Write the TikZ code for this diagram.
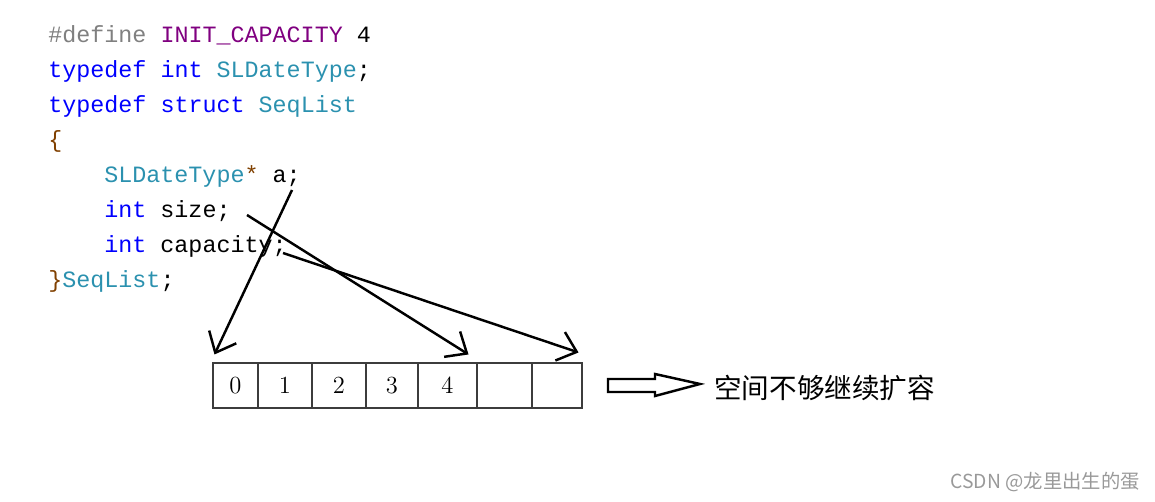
\documentclass[tikz,border=0pt]{standalone}
\usepackage{fontspec}
\setmonofont{Liberation Mono}
\newfontfamily\cjk{Noto Sans CJK SC}
\usetikzlibrary{arrows.meta, positioning}
\definecolor{kwblue}{RGB}{0, 0, 255}
\definecolor{typeteal}{RGB}{43, 145, 175}
\definecolor{macropurple}{RGB}{128, 0, 128}
\definecolor{pregray}{RGB}{128, 128, 128}
\definecolor{bracebrown}{RGB}{128, 64, 0}
\definecolor{cellgray}{RGB}{60, 60, 60}

\begin{document}
\begin{tikzpicture}[x=0.02cm, y=-0.02cm,
        code/.style={anchor=base west, inner sep=0pt, font=\ttfamily\fontsize{13.3}{15}\selectfont},
        cell/.style={draw=cellgray, line width=0.6pt, minimum height=0.9cm, inner sep=0pt, font=\fontsize{14}{16}\selectfont},
        ptr/.style={-{Straight Barb[length=3.5mm, width=6mm]}, line width=1.4pt}
      ]
        \useasboundingbox (0,0) rectangle (1155,502);
        % struct definition
        \node[code] (def) at (48,43) {\textcolor{pregray}{\#define} \textcolor{macropurple}{INIT\_CAPACITY} 4};
        \node[code] (td1) at (48,78) {\textcolor{kwblue}{typedef} \textcolor{kwblue}{int} \textcolor{typeteal}{SLDateType};};
        \node[code] (td2) at (48,113) {\textcolor{kwblue}{typedef} \textcolor{kwblue}{struct} \textcolor{typeteal}{SeqList}};
        \node[code] (lb) at (48,148) {\textcolor{bracebrown}{\{}};
        \node[code] (fa) at (104,183) {\textcolor{typeteal}{SLDateType}\textcolor{bracebrown}{*} a;};
        \node[code] (fsize) at (104,218) {\textcolor{kwblue}{int} size;};
        \node[code] (fcap) at (104,253) {\textcolor{kwblue}{int} capacity;};
        \node[code] (rb) at (48,288) {\textcolor{bracebrown}{\}}\textcolor{typeteal}{SeqList};};
        % array cells
        \foreach \i/\xl/\xr/\t in {0/213/258/0, 1/258/312/1, 2/312/366/2, 3/366/418/3, 4/418/477/4, 5/477/532/{}, 6/532/582/{}}
          \node[cell, minimum width={(\xr-\xl)*0.02cm}] (c\i) at ({(\xl+\xr)/2},385.5) {\t};
        % pointers
        \coordinate (pa) at (292,190);
        \coordinate (psize) at (247,215);
        \coordinate (pcap) at (283,253);
        \draw[ptr] (pa) -- ([xshift=0.04cm, yshift=0.16cm]c0.north west);
        \draw[ptr] (psize) -- ([xshift=-0.18cm, yshift=0.16cm]c4.north east);
        \draw[ptr] (pcap) -- ([xshift=-0.08cm, yshift=0.2cm]c6.north east);
        % expand
        \draw[line width=1.4pt, line join=miter] (608,379) -- (655,379) -- (655,374) -- (700,384)
          -- (655,396) -- (655,392) -- (608,392) -- cycle;
        \node[anchor=west, inner sep=0pt, font=\cjk\fontsize{15.7}{18}\selectfont] (note) at (714,388) {空间不够继续扩容};
        \node[anchor=east, inner sep=0pt, text=black!40, font=\cjk\fontsize{11}{13}\selectfont] (mark) at (1140,482) {CSDN @龙里出生的蛋};
      \end{tikzpicture}
\end{document}
